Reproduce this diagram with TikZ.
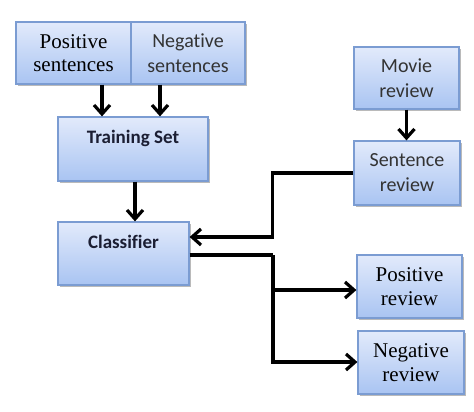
\documentclass[tikz,border=0pt]{standalone}
\usepackage{fontspec}
\setmainfont{Liberation Serif}
\newfontfamily\calibri[Ligatures=NoCommon]{Carlito}
\usepackage{tikz}
\usetikzlibrary{shapes,arrows,arrows.meta,positioning,shadows}

\definecolor{boxtop}{HTML}{E2EAFB}
\definecolor{boxbottom}{HTML}{A9C4F2}
\definecolor{boxline}{HTML}{7B9CD2}
\definecolor{boxtext}{HTML}{1B1E33}

\begin{document}
\begin{tikzpicture}
	[x=1pt,y=-1pt,
		bluebox/.style={rectangle, draw=boxline, line width=1.2pt, top color=boxtop, bottom color=boxbottom, align=center, inner sep=0pt, drop shadow={shadow xshift=2pt, shadow yshift=-2pt, fill=black!45, opacity=0.6}, font=\fontsize{21}{23.5}\selectfont},
		serifbox/.style={bluebox, text=black},
		sansbox/.style={bluebox, text=black!80, font=\calibri\fontsize{20}{25}\selectfont},
		boldbox/.style={bluebox, text=boxtext, font=\calibri\bfseries\fontsize{19}{23}\selectfont, text depth=24pt},
		flow/.style={line width=3.8pt, -{Straight Barb[length=9pt,width=16pt,line width=3.2pt]}},
	]

	\useasboundingbox (0,0) rectangle (474,412);

	% inputs
	\node[serifbox, minimum width=115pt, minimum height=62pt] (possent) at(73.5,53) {Positive\\sentences};
	\node[sansbox, minimum width=114pt, minimum height=62pt] (negsent) at(188,53) {Negative\\sentences};

	\node[boldbox, minimum width=150pt, minimum height=64pt] (training) at(133,149) {Training Set};
	\node[boldbox, minimum width=131pt, minimum height=63pt] (classifier) at(123.5,253.5) {Classifier};

	% review side
	\node[sansbox, minimum width=105pt, minimum height=62pt] (movie) at(406.5,78) {Movie\\review};
	\node[sansbox, minimum width=106pt, minimum height=64pt] (sentence) at(407,173) {Sentence\\review};

	\node[serifbox, minimum width=105pt, minimum height=63pt] (posrev) at(409.5,286.5) {Positive\\review};
	\node[serifbox, minimum width=106pt, minimum height=63pt] (negrev) at(411,362.5) {Negative\\review};

	\draw[flow] ([xshift=28.5pt]possent.south) -- ([xshift=28.5pt]possent.south |- training.north);
	\draw[flow] ([xshift=-28pt]negsent.south) -- ([xshift=-28pt]negsent.south |- training.north);
	\draw[flow] ([xshift=2pt]training.south) -- ([xshift=2pt]training.south |- classifier.north);
	\draw[flow] (movie.south) -- (movie.south |- sentence.north);

	\draw[flow] (sentence.west) -- ++(-81,0) |- ([yshift=16.5pt]classifier.east);

	\coordinate (split) at (273,255);
	\draw[line width=3.8pt] ([yshift=-1.5pt]classifier.east) -- (split);
	\draw[flow] (split) |- ([yshift=-3.5pt]posrev.west);
	\draw[flow] (split) |- ([yshift=0.5pt]negrev.west);

\end{tikzpicture}
\end{document}
